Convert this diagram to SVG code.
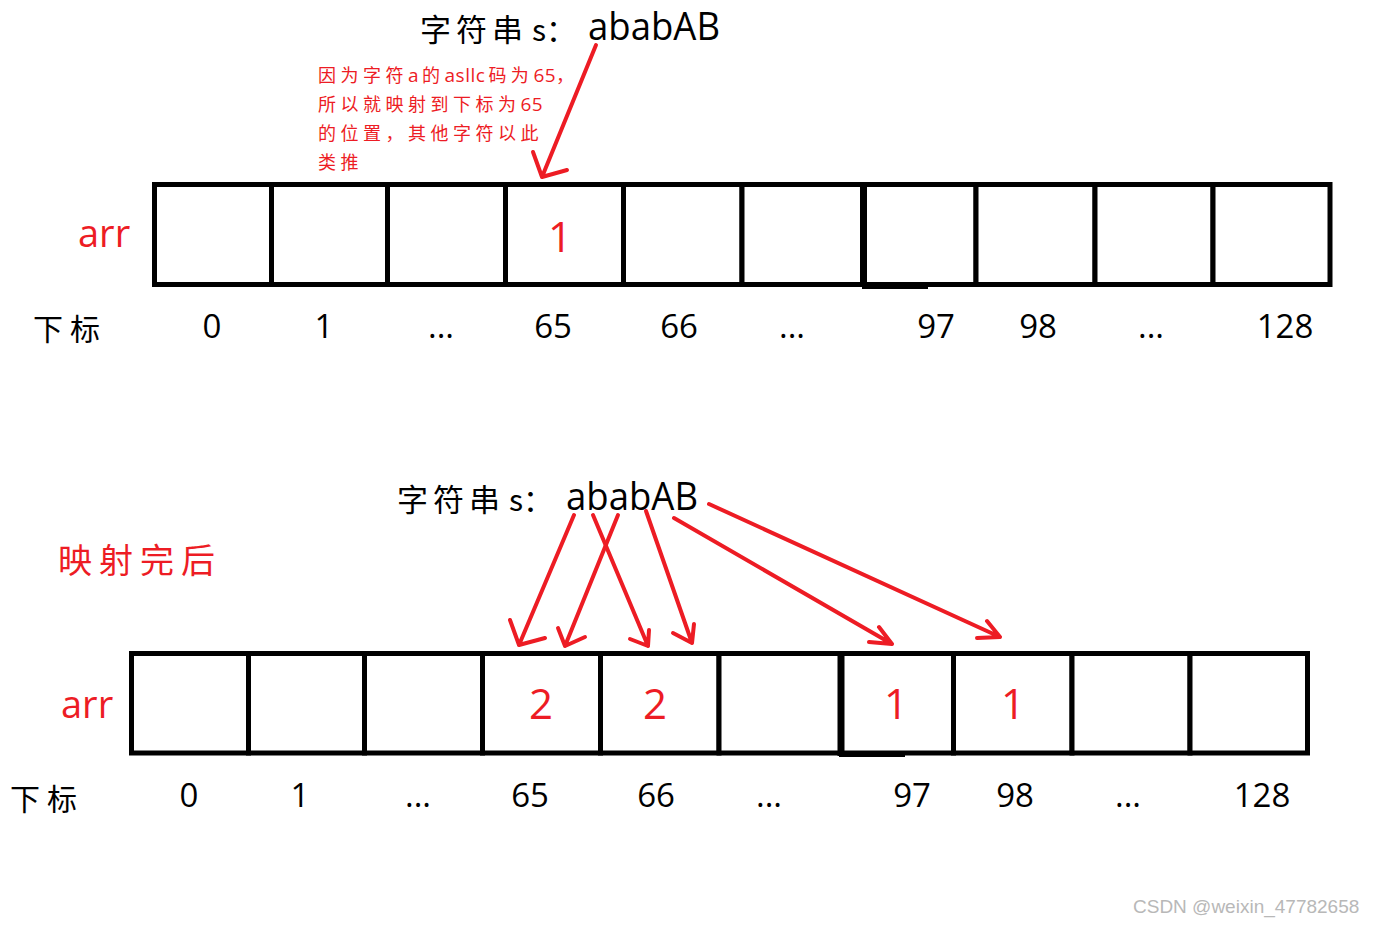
<svg xmlns="http://www.w3.org/2000/svg" width="1379" height="925" viewBox="0 0 1379 925">
<style>
.cell{fill:#fff;stroke:#000;stroke-width:5}
.num{font-family:"Open Sans","Liberation Sans",sans-serif;font-size:33px;fill:#000;text-anchor:middle}
.val{font-family:"Open Sans","Liberation Sans",sans-serif;font-size:42px;fill:#ED1C24;text-anchor:middle}
.arr{font-family:"Open Sans","Liberation Sans",sans-serif;font-size:38px;fill:#ED1C24}
.cjk{font-family:"Noto Sans CJK SC","Noto Sans",sans-serif}
.lat{font-family:"Open Sans","Liberation Sans",sans-serif}
.note{font-family:"Noto Sans CJK SC","Noto Sans",sans-serif;font-size:18px;fill:#ED1C24;letter-spacing:4.5px}
.nl{font-family:"Open Sans","Liberation Sans",sans-serif;letter-spacing:0.5px;font-size:19px}
.conn path{fill:none;stroke:#ED1C24;stroke-width:4;stroke-linecap:round;stroke-linejoin:round}
</style>
<rect width="1379" height="925" fill="#fff"/>

<!-- Top titles -->
<g id="title-top">
<text x="420" y="41" class="cjk" font-size="31" letter-spacing="5" fill="#000">字符串</text>
<text x="532" y="41" class="cjk" font-size="30" fill="#000">s：</text>
<text x="588" y="40" class="lat" font-size="38" fill="#000" textLength="132" lengthAdjust="spacingAndGlyphs">ababAB</text>
</g>
<g id="note">
<text x="318" y="82" class="note">因为字符<tspan class="nl">a</tspan><tspan dx="3">的</tspan><tspan class="nl">asllc</tspan><tspan dx="3">码为</tspan><tspan class="nl">65</tspan>，</text>
<text x="318" y="111" class="note">所以就映射到下标为<tspan class="nl">65</tspan></text>
<text x="318" y="140" class="note">的位置，其他字符以此</text>
<text x="318" y="169" class="note">类推</text>
</g>
<g id="arr-label-top"><text x="78" y="247" class="arr">arr</text></g>
<g id="index-label-top"><text x="33" y="340" class="cjk" font-size="30" letter-spacing="7" fill="#000">下标</text></g>

<!-- Top array -->
<g id="top-array">
<g id="t0"><rect class="cell" x="154.5" y="184.5" width="117" height="100"/><text class="num" x="212" y="338">0</text></g>
<g id="t1"><rect class="cell" x="271.5" y="184.5" width="116" height="100"/><text class="num" x="324" y="338">1</text></g>
<g id="t2"><rect class="cell" x="387.5" y="184.5" width="118" height="100"/><text class="num" x="441" y="338">...</text></g>
<g id="t65"><rect class="cell" x="505.5" y="184.5" width="118" height="100"/><text class="val" x="560" y="252">1</text><text class="num" x="553" y="338">65</text></g>
<g id="t66"><rect class="cell" x="623.5" y="184.5" width="118.5" height="100"/><text class="num" x="679" y="338">66</text></g>
<g id="t3"><rect class="cell" x="742" y="184.5" width="121" height="100"/><text class="num" x="792" y="338">...</text></g>
<g id="t97"><rect class="cell" x="863" y="184.5" width="113" height="100"/><text class="num" x="936" y="338">97</text></g>
<g id="t98"><rect class="cell" x="976" y="184.5" width="119" height="100"/><text class="num" x="1038" y="338">98</text></g>
<g id="t4"><rect class="cell" x="1095" y="184.5" width="118" height="100"/><text class="num" x="1151" y="338">...</text></g>
<g id="t128"><rect class="cell" x="1213" y="184.5" width="117" height="100"/><text class="num" x="1285" y="338">128</text></g>
<rect x="860" y="182" width="7" height="105" fill="#000"/>
<rect x="862" y="284" width="66" height="5" fill="#000"/>
</g>

<!-- Bottom titles -->
<g id="title-bottom">
<text x="397" y="511" class="cjk" font-size="31" letter-spacing="5" fill="#000">字符串</text>
<text x="509" y="511" class="cjk" font-size="30" fill="#000">s：</text>
<text x="566" y="510" class="lat" font-size="38" fill="#000" textLength="132" lengthAdjust="spacingAndGlyphs">ababAB</text>
</g>
<g id="after-label"><text x="58" y="573" class="cjk" font-size="34" letter-spacing="7" fill="#ED1C24">映射完后</text></g>
<g id="arr-label-bottom"><text x="61" y="718" class="arr">arr</text></g>
<g id="index-label-bottom"><text x="10" y="810" class="cjk" font-size="30" letter-spacing="7" fill="#000">下标</text></g>

<!-- Bottom array -->
<g id="bottom-array">
<g id="b0"><rect class="cell" x="131.5" y="653.5" width="117" height="99.5"/><text class="num" x="189" y="807">0</text></g>
<g id="b1"><rect class="cell" x="248.5" y="653.5" width="116" height="99.5"/><text class="num" x="300" y="807">1</text></g>
<g id="b2"><rect class="cell" x="364.5" y="653.5" width="118" height="99.5"/><text class="num" x="418" y="807">...</text></g>
<g id="b65"><rect class="cell" x="482.5" y="653.5" width="118" height="99.5"/><text class="val" x="541" y="719">2</text><text class="num" x="530" y="807">65</text></g>
<g id="b66"><rect class="cell" x="600.5" y="653.5" width="118.5" height="99.5"/><text class="val" x="655" y="719">2</text><text class="num" x="656" y="807">66</text></g>
<g id="b3"><rect class="cell" x="719" y="653.5" width="121.5" height="99.5"/><text class="num" x="769" y="807">...</text></g>
<g id="b97"><rect class="cell" x="840.5" y="653.5" width="113" height="99.5"/><text class="val" x="896" y="719">1</text><text class="num" x="912" y="807">97</text></g>
<g id="b98"><rect class="cell" x="953.5" y="653.5" width="118.5" height="99.5"/><text class="val" x="1013" y="719">1</text><text class="num" x="1015" y="807">98</text></g>
<g id="b4"><rect class="cell" x="1072" y="653.5" width="118" height="99.5"/><text class="num" x="1128" y="807">...</text></g>
<g id="b128"><rect class="cell" x="1190" y="653.5" width="117.5" height="99.5"/><text class="num" x="1262" y="807">128</text></g>
<rect x="837.5" y="651" width="7" height="105" fill="#000"/>
<rect x="839" y="752" width="66" height="5" fill="#000"/>
</g>

<!-- Connectors -->
<g id="connectors" class="conn">
<path d="M596,45 L542,177 M533,152 L542,177 L567,170"/>
<path d="M574,515 L519,645 M510,620 L519,645 L545,638"/>
<path d="M593,515 L648,646 M630,639 L648,646 L649,630"/>
<path d="M618,515 L565,646 M558,628 L565,646 L585,637"/>
<path d="M646,511 L692,643 M673,633 L692,643 L694,624"/>
<path d="M674,518 L892,644 M869,642 L892,644 L879,627"/>
<path d="M709,504 L1000,637 M977,638 L1000,637 L987,621"/>
</g>

<g id="watermark"><text x="1133" y="913" font-family="Liberation Sans, sans-serif" font-size="19" fill="#b8b8b8">CSDN @weixin_47782658</text></g>
</svg>
